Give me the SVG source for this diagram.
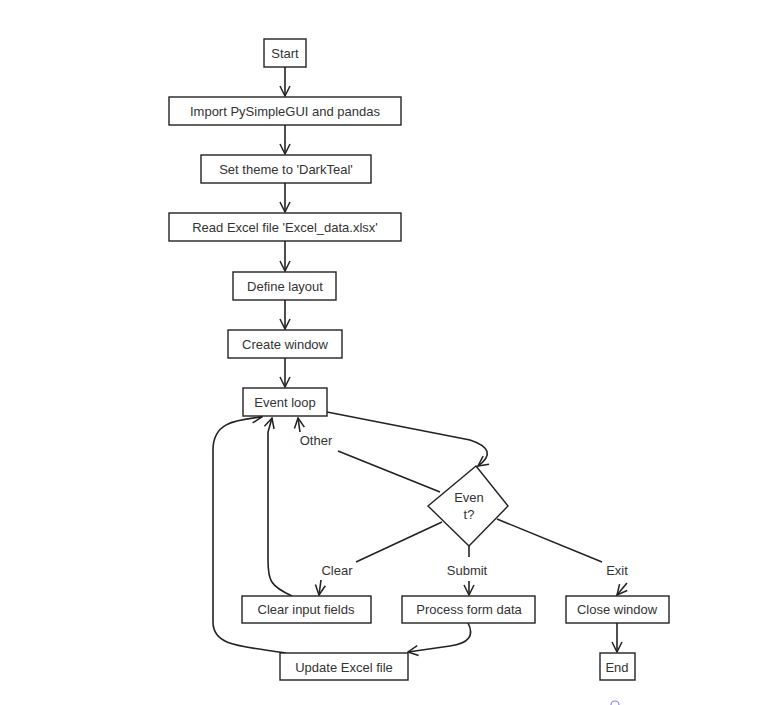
<svg xmlns="http://www.w3.org/2000/svg" width="768" height="705" viewBox="0 0 768 705">
<style>
.n rect,.n polygon{fill:#fff;stroke:#222;stroke-width:1.4}
text{font-family:"Liberation Sans","DejaVu Sans",sans-serif;font-size:13px;fill:#333;text-anchor:middle;dominant-baseline:central}
.e path{fill:none;stroke:#222;stroke-width:1.6}
</style>
<defs>
<marker id="a" viewBox="0 0 12 12" refX="11" refY="6" markerWidth="12" markerHeight="12" markerUnits="userSpaceOnUse" orient="auto">
<path d="M1,1 L11,6 L1,11" fill="none" stroke="#222" stroke-width="1.5"/>
</marker>
</defs>
<rect width="768" height="705" fill="#fff"/>
<g class="e">
<path d="M285,67 V96" marker-end="url(#a)"/>
<path d="M285,125 V154" marker-end="url(#a)"/>
<path d="M285,183 V212" marker-end="url(#a)"/>
<path d="M285,241 V271" marker-end="url(#a)"/>
<path d="M285,300 V329" marker-end="url(#a)"/>
<path d="M285,358 V387" marker-end="url(#a)"/>
<path d="M327,412 L470,440 Q500,450 478,466" marker-end="url(#a)"/>
<path d="M440,492 L338,451"/>
<path d="M300,432 L298,418" marker-end="url(#a)"/>
<path d="M442,522 L356,562"/>
<path d="M321,580 L319,595" marker-end="url(#a)"/>
<path d="M469,546 V557"/>
<path d="M469,581 V595" marker-end="url(#a)"/>
<path d="M497,519 L602,562"/>
<path d="M627,583 L617,595" marker-end="url(#a)"/>
<path d="M617,623 V652" marker-end="url(#a)"/>
<path d="M468,623 Q478,642 450,646 L408,652" marker-end="url(#a)"/>
<path d="M286,653 C240,646 213,646 213,622 L213,450 C213,424 232,420 262,417" marker-end="url(#a)"/>
<path d="M292,596 C270,586 268,580 268,560 L268,432 L272,418" marker-end="url(#a)"/>
</g>
<g id="start" class="n"><rect x="264" y="39" width="42" height="28"/><text x="285" y="53">Start</text></g>
<g id="import" class="n"><rect x="169" y="97" width="232" height="28"/><text x="285" y="111">Import PySimpleGUI and pandas</text></g>
<g id="theme" class="n"><rect x="201" y="155" width="170" height="28"/><text x="286" y="169">Set theme to 'DarkTeal'</text></g>
<g id="read" class="n"><rect x="169" y="213" width="232" height="28"/><text x="285" y="227">Read Excel file 'Excel_data.xlsx'</text></g>
<g id="layout" class="n"><rect x="233" y="272" width="103" height="28"/><text x="285" y="286">Define layout</text></g>
<g id="create" class="n"><rect x="228" y="330" width="114" height="28"/><text x="285" y="344">Create window</text></g>
<g id="loop" class="n"><rect x="243" y="388" width="84" height="28"/><text x="285" y="402">Event loop</text></g>
<g id="event" class="n"><polygon points="476,466 508,506 469,546 428,506"/><text x="469" y="497">Even</text><text x="469" y="514">t?</text></g>
<g id="clear" class="n"><rect x="242" y="596" width="129" height="27"/><text x="306" y="609">Clear input fields</text></g>
<g id="process" class="n"><rect x="402" y="596" width="133" height="27"/><text x="469" y="609">Process form data</text></g>
<g id="close" class="n"><rect x="566" y="596" width="103" height="27"/><text x="617" y="609">Close window</text></g>
<g id="update" class="n"><rect x="280" y="653" width="128" height="27"/><text x="344" y="667">Update Excel file</text></g>
<g id="end" class="n"><rect x="600" y="653" width="35" height="27"/><text x="617" y="667">End</text></g>
<g id="labels">
<text x="316" y="440">Other</text>
<text x="337" y="570">Clear</text>
<text x="467" y="570">Submit</text>
<text x="617" y="570">Exit</text>
</g>
<path d="M611,705 A4,4 0 0 1 619,705" fill="none" stroke="#8a7cf0" stroke-width="1.2"/>
</svg>
